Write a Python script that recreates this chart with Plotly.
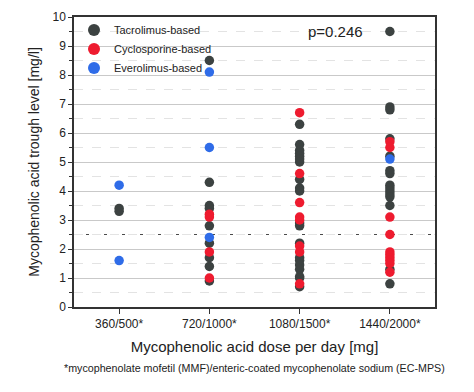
import plotly.graph_objects as go

categories = ["360/500*", "720/1000*", "1080/1500*", "1440/2000*"]

# values per dose category (same order as categories)
tacrolimus = [
    [3.4, 3.3],
    [8.5, 4.3, 3.5, 3.4, 2.8, 2.2, 1.7, 1.4, 0.9],
    [6.3, 5.6, 5.4, 5.3, 5.2, 5.1, 5.0, 4.4, 4.1, 4.0, 2.9, 2.8, 2.2, 1.7, 1.6, 1.45, 1.3, 1.05, 1.0, 0.7],
    [9.5, 6.9, 6.8, 5.8, 5.2, 4.7, 4.6, 4.2, 4.1, 4.0, 3.9, 3.8, 3.5, 1.3, 0.8],
]
cyclosporine = [
    [],
    [3.2, 3.1, 1.9, 1.0],
    [6.7, 4.6, 3.6, 3.1, 3.0, 2.1, 1.9, 0.8],
    [5.7, 5.5, 3.1, 2.5, 1.9, 1.8, 1.7, 1.6, 1.5, 1.2],
]
everolimus = [
    [4.2, 1.6],
    [8.1, 5.5, 2.4],
    [],
    [5.1],
]

threshold = 2.5
p_text = "p=0.246"


def flatten(groups):
    xs, ys = [], []
    for cat, vals in zip(categories, groups):
        xs += [cat] * len(vals)
        ys += vals
    return xs, ys


FONT = "Arial, Liberation Sans, sans-serif"
colors = {"tac": "#3c4241", "cyc": "#ee1b2f", "eve": "#2f6ce8"}

fig = go.Figure()
for name, groups, col in [("Tacrolimus-based", tacrolimus, colors["tac"]),
                          ("Cyclosporine-based", cyclosporine, colors["cyc"]),
                          ("Everolimus-based", everolimus, colors["eve"])]:
    x, y = flatten(groups)
    fig.add_trace(go.Scatter(x=x, y=y, mode="markers", name=name,
                             marker=dict(color=col, size=9.5)))

fig.add_shape(type="line", xref="paper", x0=0, x1=1, yref="y", y0=threshold, y1=threshold,
              line=dict(color="#4a4a4a", width=1, dash="dot"), layer="below")

fig.add_annotation(text=p_text, xref="x", x=2.4, yref="y", y=9.5, showarrow=False,
                   font=dict(size=15, color="#222222", family=FONT))
fig.add_annotation(text="*mycophenolate mofetil (MMF)/enteric-coated mycophenolate sodium (EC-MPS)",
                   xref="paper", x=0.5, yref="paper", y=0, yanchor="middle", yshift=-61,
                   showarrow=False, font=dict(size=10.7, color="#222222", family=FONT))

fig.update_layout(
    width=474, height=392,
    margin=dict(l=66, r=47, t=9, b=93, autoexpand=False),
    plot_bgcolor="white", paper_bgcolor="white",
    font=dict(family=FONT, color="#222222", size=12),
    showlegend=True,
    legend=dict(x=0.0, y=1.005, xanchor="left", yanchor="top", bgcolor="rgba(0,0,0,0)",
                font=dict(size=11, family=FONT), itemsizing="constant", tracegroupgap=0),
    xaxis=dict(type="category", categoryorder="array", categoryarray=categories,
               range=[-0.5, 3.5], showgrid=False, showline=True, linecolor="#333333",
               linewidth=1.5, mirror=True, ticks="outside", ticklen=5, tickcolor="#333333",
               tickfont=dict(size=12), automargin=False,
               title=dict(text="Mycophenolic acid dose per day [mg]", font=dict(size=15), standoff=11)),
    yaxis=dict(range=[0, 10], dtick=1, showline=True, linecolor="#333333", linewidth=1.5,
               mirror=True, ticks="outside", ticklen=4, tickcolor="#333333", zeroline=False,
               showgrid=True, gridcolor="#c9c9c9", gridwidth=1, tickfont=dict(size=12),
               automargin=False,
               minor=dict(dtick=0.5, ticks="outside", ticklen=3, tickcolor="#333333",
                          showgrid=True, gridcolor="#e3e3e3", griddash="dash"),
               title=dict(text="Mycophenolic acid trough level [mg/l]", font=dict(size=14), standoff=10)),
)

fig.write_html("out.html")
